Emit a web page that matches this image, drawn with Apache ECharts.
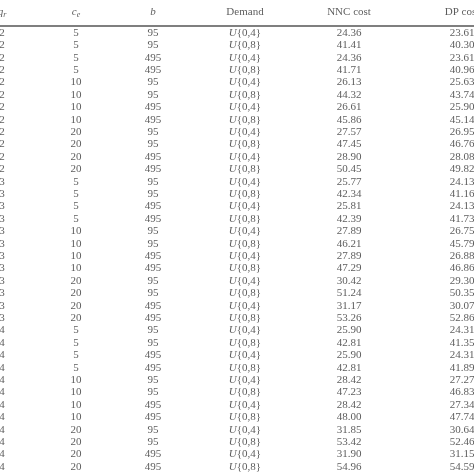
<!DOCTYPE html>
<html>
<head>
<meta charset="utf-8">
<script src="https://cdn.jsdelivr.net/npm/echarts@6/dist/echarts.min.js"></script>
<style>
html, body { margin: 0; padding: 0; background: #fff; }
#chart { width: 474px; height: 474px; }
</style>
</head>
<body>
<div id="chart"></div>
<script>
// table values, one array per column
const qr = [2,2,2,2,2,2,2,2,2,2,2,2, 3,3,3,3,3,3,3,3,3,3,3,3, 4,4,4,4,4,4,4,4,4,4,4,4];
const ce = [5,5,5,5,10,10,10,10,20,20,20,20, 5,5,5,5,10,10,10,10,20,20,20,20, 5,5,5,5,10,10,10,10,20,20,20,20];
const b = [95,95,495,495,95,95,495,495,95,95,495,495, 95,95,495,495,95,95,495,495,95,95,495,495, 95,95,495,495,95,95,495,495,95,95,495,495];
const demand = ['{0,4}','{0,8}','{0,4}','{0,8}','{0,4}','{0,8}','{0,4}','{0,8}','{0,4}','{0,8}','{0,4}','{0,8}',
    '{0,4}','{0,8}','{0,4}','{0,8}','{0,4}','{0,8}','{0,4}','{0,8}','{0,4}','{0,8}','{0,4}','{0,8}',
    '{0,4}','{0,8}','{0,4}','{0,8}','{0,4}','{0,8}','{0,4}','{0,8}','{0,4}','{0,8}','{0,4}','{0,8}'];
const nncCost = [24.36,41.41,24.36,41.71,26.13,44.32,26.61,45.86,27.57,47.45,28.90,50.45,
    25.77,42.34,25.81,42.39,27.89,46.21,27.89,47.29,30.42,51.24,31.17,53.26,
    25.90,42.81,25.90,42.81,28.42,47.23,28.42,48.00,31.85,53.42,31.90,54.96];
const dpCost = [23.61,40.30,23.61,40.96,25.63,43.74,25.90,45.14,26.95,46.76,28.08,49.82,
    24.13,41.16,24.13,41.73,26.75,45.79,26.88,46.86,29.30,50.35,30.07,52.86,
    24.31,41.35,24.31,41.89,27.27,46.83,27.34,47.74,30.64,52.46,31.15,54.59];

const colX = [2, 76, 153, 245, 349, 462]; // column centres in px
const headerRow = -1.7;
const font = '"Liberation Serif", "DejaVu Serif", serif';

function column(x, header, values, fmt) {
    let data = [{ value: [x, headerRow], text: header }];
    values.forEach((v, i) => data.push({ value: [x, i], text: fmt(v) }));
    return {
        type: 'scatter',
        symbolSize: 0,
        silent: true,
        data: data,
        label: {
            show: true,
            position: 'inside',
            color: '#333',
            fontFamily: font,
            fontSize: 11,
            formatter: p => p.data.text,
            rich: {
                i: { fontStyle: 'italic', fontFamily: font, fontSize: 11, color: '#333' },
                s: { fontStyle: 'italic', fontFamily: font, fontSize: 8, color: '#333', verticalAlign: 'bottom', padding: [6, 0, 0, 0] }
            }
        }
    };
}

const series = [
    column(colX[0], '{i|q}{s|r}', qr, v => String(v)),
    column(colX[1], '{i|c}{s|e}', ce, v => String(v)),
    column(colX[2], '{i|b}', b, v => String(v)),
    column(colX[3], 'Demand', demand, v => '{i|U}' + v),
    column(colX[4], 'NNC cost', nncCost, v => v.toFixed(2)),
    column(colX[5], 'DP cost', dpCost, v => v.toFixed(2))
];
series[0].markLine = {
    symbol: 'none', silent: true, label: { show: false },
    lineStyle: { color: '#555', width: 1.5, type: 'solid' },
    data: [{ yAxis: -0.56 }]
};

const chart = echarts.init(document.getElementById('chart'));
chart.setOption({
    animation: false,
    backgroundColor: '#fff',
    grid: { left: 0, right: 0, top: 0, bottom: 0 },
    xAxis: { type: 'value', min: 0, max: 474, show: false },
    yAxis: { type: 'value', inverse: true, min: -2.661, max: 35.565, show: false },
    series: series
});
</script>
</body>
</html>
